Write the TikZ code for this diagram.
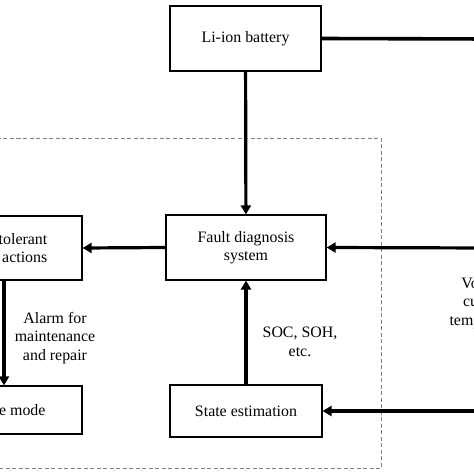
\documentclass[tikz,border=0pt]{standalone}
\usepackage{fontspec}
\setmainfont{Liberation Serif}
\usetikzlibrary{arrows.meta}
\begin{document}
\begin{tikzpicture}[x=1pt, y=-1pt, auto, line width=1.2pt,
  block node/.style={rectangle,draw,inner sep=0pt,align=center,font=\fontsize{15.9}{18.6}\selectfont},
  note node/.style={align=center,inner sep=0pt,font=\fontsize{15.9}{18.6}\selectfont}]
\useasboundingbox (0,0) rectangle (474,474);
\clip (0,0) rectangle (474,474);
% frame of the diagnosis part
\draw[gray, line width=0.8pt, dash pattern=on 4pt off 2.5pt] (-120,138) -- (381,138) -- (381,468) -- (-120,468);
\begin{scope}[every node/.style={block node}]
\node[minimum width=151pt, minimum height=65pt] (batt) at (245.5,38.5) {Li-ion battery};
\node[minimum width=160pt, minimum height=65pt] (fds) at (246,247.5) {Fault diagnosis\\system};
\node[minimum width=156pt, minimum height=64pt, align=right] (fta) at (4,248) {Fault-tolerant\\actions};
\node[minimum width=168pt, minimum height=48pt] (fsm) at (-2,410) {Fail-safe mode};
\node[minimum width=152pt, minimum height=52pt] (se) at (246,411) {State estimation};
\end{scope}
\node[note node] (alarm) at (55,338) {Alarm for\\maintenance\\and repair};
\node[note node] (soc) at (300,342) {SOC, SOH,\\etc.};
\node[note node] (meas) at (487.5,303) {Voltage,\\current,\\temperature};
\coordinate (bout) at (490,39);
\coordinate (fin) at (490,248);
\coordinate (sin) at (490,411);
\draw[line width=3.6pt] (batt.east) -- (bout);
\begin{scope}[every edge/.style={draw=black,line width=3.2pt,-{Triangle[length=9pt,width=10pt]}}]
\draw (batt) edge (fds);
\draw (fds.west) edge (fta.east);
\draw (fta.south) edge (fta.south |- fsm.north);
\draw (se) edge (fds);
\draw (fin) edge (fds.east);
\draw (sin) edge (se.east);
\end{scope}
\end{tikzpicture}
\end{document}
